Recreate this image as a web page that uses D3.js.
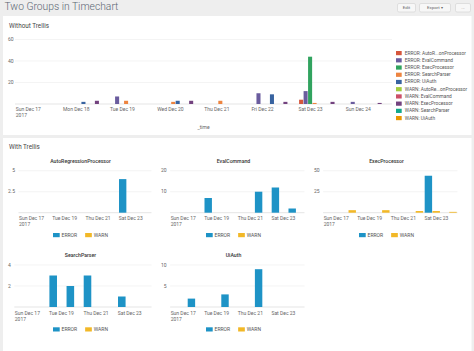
<!DOCTYPE html>
<html><head><meta charset="utf-8">
<script src="https://cdn.jsdelivr.net/npm/d3@7"></script>
<style>
html,body{margin:0;padding:0;background:#eeeeee;overflow:hidden;}
svg{display:block;font-family:Roboto,"Open Sans",sans-serif;}
</style></head><body>
<svg id="c" width="474" height="351"></svg>
<script>
// ---------------- DATA ----------------
const days = ["2017-12-17","2017-12-18","2017-12-19","2017-12-20","2017-12-21","2017-12-22","2017-12-23","2017-12-24"];
const seriesNames = ["ERROR: AutoR...onProcessor","ERROR: EvalCommand","ERROR: ExecProcessor","ERROR: SearchParser","ERROR: UiAuth",
                     "WARN: AutoRe...onProcessor","WARN: EvalCommand","WARN: ExecProcessor","WARN: SearchParser","WARN: UiAuth"];
const seriesColors = ["#d6563c","#6a5c9e","#31a35f","#ed8440","#3863a0","#a2cc3e","#cc5068","#73427f","#11a88b","#ea9600"];
const errAutoRegression = [0,0,0,0,0,0,4,0];
const errEvalCommand    = [0,0,7,0,0,10,12,2];
const errExecProcessor  = [0,0,0,0,0,0,44,0];
const errSearchParser   = [0,0,3,2,3,0,1,0];
const errUiAuth         = [0,2,0,3,0,9,0,0];
const warnAutoRegression= [0,0,0,0,0,0,0,0];
const warnEvalCommand   = [0,0,0,0,0,0,0,0];
const warnExecProcessor = [0,3,0,3,0,2,2,1];
const warnSearchParser  = [0,0,0,0,0,0,0,0];
const warnUiAuth        = [0,0,0,0,0,0,0,0];
const topYTicks = [20,40,60];
const topYMax = 60;
const trellisTitles = ["AutoRegressionProcessor","EvalCommand","ExecProcessor","SearchParser","UiAuth"];
const trellisYMax = [5,20,50,4,10];
const trellisYTicks = [[2.5,5],[10,20],[25,50],[2,4],[5,10]];
const trellisXTickDays = ["2017-12-17","2017-12-19","2017-12-21","2017-12-23"];
const trellisLevels = ["ERROR","WARN"];
const trellisColors = ["#1e93c6","#f2b827"];

// ---------------- SETUP ----------------
const allSeries = [errAutoRegression,errEvalCommand,errExecProcessor,errSearchParser,errUiAuth,
                   warnAutoRegression,warnEvalCommand,warnExecProcessor,warnSearchParser,warnUiAuth];
const trellisErr = [errAutoRegression,errEvalCommand,errExecProcessor,errSearchParser,errUiAuth];
const trellisWarn = [warnAutoRegression,warnEvalCommand,warnExecProcessor,warnSearchParser,warnUiAuth];
const parse = d3.utcParse("%Y-%m-%d");
const dayDates = days.map(parse);
const endDate = d3.utcDay.offset(dayDates[dayDates.length-1],1);
const fmt = d3.utcFormat("%a %b %-d");
const yearFmt = d3.utcFormat("%Y");

const svg = d3.select("#c");
const AX = "#666", GRID = "#ececec", BASE = "#d4d4d4";

// header
svg.append("text").attr("x",4.5).attr("y",10.2).attr("font-size",10.3).attr("font-weight",300)
  .attr("fill","#5c6773").text("Two Groups in Timechart");
const buttons = [{t:"Edit",x:397,w:18},{t:"Export \u25BE",x:419,w:31},{t:"...",x:455,w:15}];
buttons.forEach(b=>{
  svg.append("rect").attr("x",b.x+0.5).attr("y",3.5).attr("width",b.w).attr("height",8.5).attr("rx",1.5)
    .attr("fill","#f7f7f7").attr("stroke","#d0d0d0").attr("stroke-width",0.6);
  svg.append("text").attr("x",b.x+0.5+b.w/2).attr("y",9.3).attr("text-anchor","middle")
    .attr("font-size",4.4).attr("fill","#666").text(b.t);
});

// panels
svg.append("rect").attr("x",3).attr("y",16).attr("width",468.5).attr("height",119).attr("fill","#fff");
svg.append("rect").attr("x",3).attr("y",138).attr("width",468.5).attr("height",220).attr("fill","#fff");
svg.append("text").attr("x",9).attr("y",27.6).attr("font-size",6.3).attr("fill","#444").text("Without Trellis");
svg.append("text").attr("x",9).attr("y",149.3).attr("font-size",6.3).attr("fill","#444").text("With Trellis");

// ---------------- TOP CHART ----------------
const tx = d3.scaleUtc().domain([dayDates[0],endDate]).range([15,392]);
const ty = d3.scaleLinear().domain([0,topYMax]).range([104,39.5]);
const topG = svg.append("g");
topG.selectAll(".g").data(topYTicks).join("line")
  .attr("x1",15).attr("x2",392).attr("y1",d=>ty(d)).attr("y2",d=>ty(d))
  .attr("stroke",GRID).attr("stroke-width",0.6);
topG.append("line").attr("x1",15).attr("x2",392).attr("y1",ty(0)).attr("y2",ty(0)).attr("stroke",BASE).attr("stroke-width",0.6);
topG.selectAll(".yl").data(topYTicks).join("text")
  .attr("x",13.5).attr("y",d=>ty(d)).attr("dy","0.35em").attr("text-anchor","end")
  .attr("font-size",5).attr("fill",AX).text(d=>d);
const tl = topG.selectAll(".xl").data(dayDates).join("text")
  .attr("x",d=>tx(d)+0.8).attr("y",111).attr("font-size",5).attr("fill",AX);
tl.append("tspan").text(d=>fmt(d));
tl.filter((d,i)=>i===0).append("tspan").attr("x",d=>tx(d)+0.8).attr("dy",6.4).text(d=>yearFmt(d));
topG.append("text").attr("x",203.5).attr("y",128.6).attr("text-anchor","middle").attr("font-size",5).attr("fill",AX).text("_time");

const dayW = tx(dayDates[1])-tx(dayDates[0]);
const inner = d3.scaleBand().domain(d3.range(seriesNames.length)).range([0,dayW]).paddingInner(0.1).paddingOuter(0.3);
allSeries.forEach((vals,si)=>{
  topG.append("g").selectAll("rect").data(vals.map((v,i)=>({v,d:dayDates[i]})).filter(o=>o.v>0)).join("rect")
    .attr("x",o=>tx(o.d)+inner(si)).attr("width",inner.bandwidth())
    .attr("y",o=>ty(o.v)).attr("height",o=>ty(0)-ty(o.v)).attr("fill",seriesColors[si]);
});
// legend
const leg = svg.append("g");
seriesNames.forEach((n,i)=>{
  const yy = 51 + i*7.22;
  leg.append("rect").attr("x",396).attr("y",yy).attr("width",5.7).attr("height",4.2).attr("fill",seriesColors[i]);
  leg.append("text").attr("x",404.8).attr("y",yy+3.6).attr("font-size",4.8).attr("fill","#555").text(n);
});

// ---------------- TRELLIS ----------------
const rowY = [0,94.3];
trellisTitles.forEach((title,pi)=>{
  const col = pi%3, row = Math.floor(pi/3);
  const cx0 = 4 + col*153, cw = 153, cc = cx0 + cw/2;
  const oy = rowY[row];
  const g = svg.append("g");
  const yl = g.selectAll(".yl").data(trellisYTicks[pi]).join("text")
    .attr("font-size",5).attr("fill",AX).attr("text-anchor","end").text(d=>d);
  let lw = 0; yl.each(function(){lw=Math.max(lw,this.getComputedTextLength());});
  const left = cx0 + 4 + lw + 3.5, right = cx0 + 147.5;
  const x = d3.scaleUtc().domain([dayDates[0],endDate]).range([left,right]);
  const y = d3.scaleLinear().domain([0,trellisYMax[pi]]).range([212.7+oy,170.7+oy]);
  yl.attr("x",left-3.5).attr("y",d=>y(d)).attr("dy","0.35em");
  g.selectAll(".gr").data(trellisYTicks[pi]).join("line")
    .attr("x1",left).attr("x2",right).attr("y1",d=>y(d)).attr("y2",d=>y(d)).attr("stroke",GRID).attr("stroke-width",0.6);
  g.append("line").attr("x1",left).attr("x2",right).attr("y1",y(0)).attr("y2",y(0)).attr("stroke",BASE).attr("stroke-width",0.6);
  g.append("text").attr("x",cc).attr("y",162.6+oy).attr("text-anchor","middle").attr("font-size",5.2)
    .attr("font-weight",500).attr("fill","#333").text(title);
  const xt = trellisXTickDays.map(parse);
  const xl = g.selectAll(".xl").data(xt).join("text").attr("x",d=>x(d)+0.5).attr("y",220.2+oy)
    .attr("font-size",5).attr("fill",AX);
  xl.append("tspan").text(d=>fmt(d));
  xl.filter((d,i)=>i===0).append("tspan").attr("x",d=>x(d)+0.5).attr("dy",6.2).text(d=>yearFmt(d));
  const dw = x(dayDates[1])-x(dayDates[0]);
  const ib = d3.scaleBand().domain([0,1]).range([0,dw]).paddingInner(0.05).paddingOuter(0.1);
  [trellisErr[pi],trellisWarn[pi]].forEach((vals,li)=>{
    g.append("g").selectAll("rect").data(vals.map((v,i)=>({v,d:dayDates[i]})).filter(o=>o.v>0)).join("rect")
      .attr("x",o=>x(o.d)+ib(li)).attr("width",ib.bandwidth())
      .attr("y",o=>y(o.v)).attr("height",o=>y(0)-y(o.v)).attr("fill",trellisColors[li]);
  });
  const lg = g.append("g");
  let cur = 0;
  trellisLevels.forEach((lv,li)=>{
    lg.append("rect").attr("x",cur).attr("y",233+oy).attr("width",6.7).attr("height",4.2).attr("fill",trellisColors[li]);
    const t = lg.append("text").attr("x",cur+8.6).attr("y",237+oy).attr("font-size",5).attr("fill","#555").text(lv);
    cur += 8.6 + t.node().getComputedTextLength() + (li===0?8:0);
  });
  lg.attr("transform",`translate(${cc-cur/2},0)`);
});
</script>
</body></html>
